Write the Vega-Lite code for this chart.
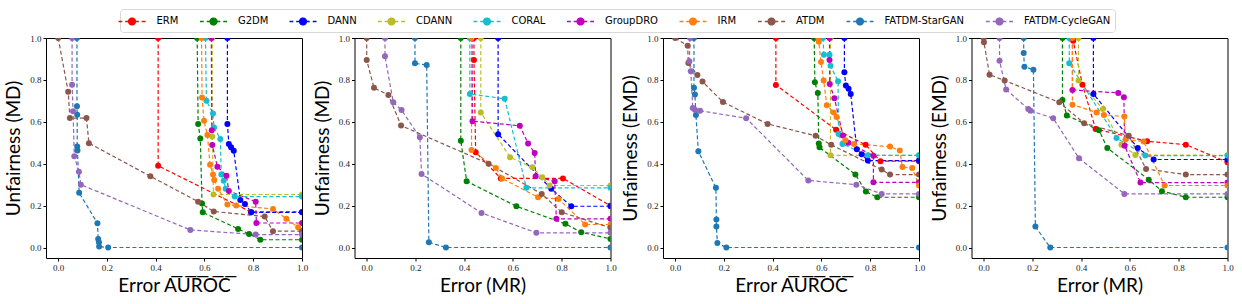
{
"$schema":"https://vega.github.io/schema/vega-lite/v6.json",
"padding":{"left":4,"top":8,"right":4,"bottom":4},
"bounds":"flush",
"spacing":52.5,
"config":{
 "view":{"stroke":"#000","strokeWidth":1},
 "axis":{"labelFont":"Liberation Serif","labelFontSize":9,"labelColor":"#222","titleFont":"Lato","titleFontSize":19,"titleFontWeight":"normal","titleColor":"#000","grid":false,"domain":false,"tickColor":"#000","tickSize":3,"values":[0,0.2,0.4,0.6,0.8,1],"format":".1f","labelFlush":false,"labelOverlap":false}
},
"data":{"values":[
{"p":1,"s":"ERM","x":0.41,"y":1},{"p":1,"s":"ERM","x":0.41,"y":0.39},{"p":1,"s":"ERM","x":0.79,"y":0.17},{"p":1,"s":"ERM","x":1,"y":0.17},
{"p":1,"s":"G2DM","x":0.57,"y":1},{"p":1,"s":"G2DM","x":0.574,"y":0.59},{"p":1,"s":"G2DM","x":0.583,"y":0.52},{"p":1,"s":"G2DM","x":0.59,"y":0.21},{"p":1,"s":"G2DM","x":0.593,"y":0.168},{"p":1,"s":"G2DM","x":0.738,"y":0.089},{"p":1,"s":"G2DM","x":0.783,"y":0.065},{"p":1,"s":"G2DM","x":0.829,"y":0.037},{"p":1,"s":"G2DM","x":1,"y":0.037},
{"p":1,"s":"DANN","x":0.694,"y":1},{"p":1,"s":"DANN","x":0.694,"y":0.589},{"p":1,"s":"DANN","x":0.7,"y":0.494},{"p":1,"s":"DANN","x":0.709,"y":0.478},{"p":1,"s":"DANN","x":0.72,"y":0.462},{"p":1,"s":"DANN","x":0.747,"y":0.227},{"p":1,"s":"DANN","x":0.766,"y":0.208},{"p":1,"s":"DANN","x":0.792,"y":0.168},{"p":1,"s":"DANN","x":1,"y":0.168},
{"p":1,"s":"CDANN","x":0.632,"y":1},{"p":1,"s":"CDANN","x":0.632,"y":0.53},{"p":1,"s":"CDANN","x":0.637,"y":0.253},{"p":1,"s":"CDANN","x":1,"y":0.253},
{"p":1,"s":"CORAL","x":0.604,"y":1},{"p":1,"s":"CORAL","x":0.608,"y":0.7},{"p":1,"s":"CORAL","x":0.635,"y":0.64},{"p":1,"s":"CORAL","x":0.639,"y":0.573},{"p":1,"s":"CORAL","x":0.665,"y":0.518},{"p":1,"s":"CORAL","x":0.669,"y":0.348},{"p":1,"s":"CORAL","x":0.679,"y":0.319},{"p":1,"s":"CORAL","x":0.687,"y":0.28},{"p":1,"s":"CORAL","x":0.724,"y":0.243},{"p":1,"s":"CORAL","x":1,"y":0.243},
{"p":1,"s":"GroupDRO","x":0.628,"y":1},{"p":1,"s":"GroupDRO","x":0.63,"y":0.56},{"p":1,"s":"GroupDRO","x":0.632,"y":0.489},{"p":1,"s":"GroupDRO","x":0.653,"y":0.386},{"p":1,"s":"GroupDRO","x":0.69,"y":0.343},{"p":1,"s":"GroupDRO","x":0.7,"y":0.27},{"p":1,"s":"GroupDRO","x":0.81,"y":0.219},{"p":1,"s":"GroupDRO","x":0.813,"y":0.117},{"p":1,"s":"GroupDRO","x":1,"y":0.117},
{"p":1,"s":"IRM","x":0.588,"y":1},{"p":1,"s":"IRM","x":0.59,"y":0.716},{"p":1,"s":"IRM","x":0.598,"y":0.605},{"p":1,"s":"IRM","x":0.612,"y":0.537},{"p":1,"s":"IRM","x":0.623,"y":0.395},{"p":1,"s":"IRM","x":0.635,"y":0.348},{"p":1,"s":"IRM","x":0.64,"y":0.322},{"p":1,"s":"IRM","x":0.656,"y":0.28},{"p":1,"s":"IRM","x":0.694,"y":0.205},{"p":1,"s":"IRM","x":0.73,"y":0.2},{"p":1,"s":"IRM","x":0.881,"y":0.184},{"p":1,"s":"IRM","x":0.936,"y":0.137},{"p":1,"s":"IRM","x":0.984,"y":0.097},{"p":1,"s":"IRM","x":1,"y":0.08},
{"p":1,"s":"ATDM","x":0,"y":1},{"p":1,"s":"ATDM","x":0.041,"y":0.744},{"p":1,"s":"ATDM","x":0.048,"y":0.618},{"p":1,"s":"ATDM","x":0.116,"y":0.618},{"p":1,"s":"ATDM","x":0.126,"y":0.498},{"p":1,"s":"ATDM","x":0.378,"y":0.34},{"p":1,"s":"ATDM","x":0.574,"y":0.219},{"p":1,"s":"ATDM","x":0.638,"y":0.172},{"p":1,"s":"ATDM","x":0.847,"y":0.148},{"p":1,"s":"ATDM","x":0.881,"y":0.078},{"p":1,"s":"ATDM","x":1,"y":0.078},
{"p":1,"s":"FATDM-StarGAN","x":0.077,"y":1},{"p":1,"s":"FATDM-StarGAN","x":0.077,"y":0.674},{"p":1,"s":"FATDM-StarGAN","x":0.078,"y":0.634},{"p":1,"s":"FATDM-StarGAN","x":0.078,"y":0.482},{"p":1,"s":"FATDM-StarGAN","x":0.079,"y":0.463},{"p":1,"s":"FATDM-StarGAN","x":0.086,"y":0.261},{"p":1,"s":"FATDM-StarGAN","x":0.161,"y":0.116},{"p":1,"s":"FATDM-StarGAN","x":0.164,"y":0.041},{"p":1,"s":"FATDM-StarGAN","x":0.167,"y":0.025},{"p":1,"s":"FATDM-StarGAN","x":0.168,"y":0.005},{"p":1,"s":"FATDM-StarGAN","x":0.205,"y":0},{"p":1,"s":"FATDM-StarGAN","x":1,"y":0},
{"p":1,"s":"FATDM-CycleGAN","x":0.057,"y":1},{"p":1,"s":"FATDM-CycleGAN","x":0.057,"y":0.777},{"p":1,"s":"FATDM-CycleGAN","x":0.061,"y":0.65},{"p":1,"s":"FATDM-CycleGAN","x":0.066,"y":0.436},{"p":1,"s":"FATDM-CycleGAN","x":0.085,"y":0.362},{"p":1,"s":"FATDM-CycleGAN","x":0.093,"y":0.3},{"p":1,"s":"FATDM-CycleGAN","x":0.542,"y":0.084},{"p":1,"s":"FATDM-CycleGAN","x":0.81,"y":0.062},{"p":1,"s":"FATDM-CycleGAN","x":1,"y":0.062},
{"p":2,"s":"ERM","x":0.44,"y":1},{"p":2,"s":"ERM","x":0.44,"y":0.895},{"p":2,"s":"ERM","x":0.447,"y":0.455},{"p":2,"s":"ERM","x":0.55,"y":0.33},{"p":2,"s":"ERM","x":0.805,"y":0.33},{"p":2,"s":"ERM","x":1,"y":0.2},
{"p":2,"s":"G2DM","x":0.386,"y":1},{"p":2,"s":"G2DM","x":0.386,"y":0.51},{"p":2,"s":"G2DM","x":0.41,"y":0.316},{"p":2,"s":"G2DM","x":0.614,"y":0.197},{"p":2,"s":"G2DM","x":0.815,"y":0.113},{"p":2,"s":"G2DM","x":0.88,"y":0.073},{"p":2,"s":"G2DM","x":1,"y":0.041},
{"p":2,"s":"DANN","x":0.539,"y":1},{"p":2,"s":"DANN","x":0.539,"y":0.541},{"p":2,"s":"DANN","x":0.757,"y":0.28},{"p":2,"s":"DANN","x":0.839,"y":0.197},{"p":2,"s":"DANN","x":1,"y":0.197},
{"p":2,"s":"CDANN","x":0.468,"y":1},{"p":2,"s":"CDANN","x":0.468,"y":0.645},{"p":2,"s":"CDANN","x":0.588,"y":0.431},{"p":2,"s":"CDANN","x":0.679,"y":0.383},{"p":2,"s":"CDANN","x":0.72,"y":0.335},{"p":2,"s":"CDANN","x":0.75,"y":0.296},{"p":2,"s":"CDANN","x":1,"y":0.296},
{"p":2,"s":"CORAL","x":0.423,"y":1},{"p":2,"s":"CORAL","x":0.423,"y":0.733},{"p":2,"s":"CORAL","x":0.566,"y":0.71},{"p":2,"s":"CORAL","x":0.655,"y":0.285},{"p":2,"s":"CORAL","x":1,"y":0.285},
{"p":2,"s":"GroupDRO","x":0.432,"y":1},{"p":2,"s":"GroupDRO","x":0.434,"y":0.603},{"p":2,"s":"GroupDRO","x":0.628,"y":0.581},{"p":2,"s":"GroupDRO","x":0.662,"y":0.497},{"p":2,"s":"GroupDRO","x":0.689,"y":0.451},{"p":2,"s":"GroupDRO","x":0.693,"y":0.34},{"p":2,"s":"GroupDRO","x":0.771,"y":0.316},{"p":2,"s":"GroupDRO","x":0.778,"y":0.137},{"p":2,"s":"GroupDRO","x":1,"y":0.137},
{"p":2,"s":"IRM","x":0.43,"y":1},{"p":2,"s":"IRM","x":0.43,"y":0.466},{"p":2,"s":"IRM","x":0.53,"y":0.38},{"p":2,"s":"IRM","x":0.555,"y":0.33},{"p":2,"s":"IRM","x":0.703,"y":0.24},{"p":2,"s":"IRM","x":0.787,"y":0.232},{"p":2,"s":"IRM","x":0.896,"y":0.11},{"p":2,"s":"IRM","x":1,"y":0.11},
{"p":2,"s":"ATDM","x":0,"y":1},{"p":2,"s":"ATDM","x":0,"y":0.895},{"p":2,"s":"ATDM","x":0.03,"y":0.762},{"p":2,"s":"ATDM","x":0.089,"y":0.728},{"p":2,"s":"ATDM","x":0.141,"y":0.582},{"p":2,"s":"ATDM","x":0.5,"y":0.4},{"p":2,"s":"ATDM","x":0.718,"y":0.256},{"p":2,"s":"ATDM","x":0.8,"y":0.168},{"p":2,"s":"ATDM","x":1,"y":0.094},
{"p":2,"s":"FATDM-StarGAN","x":0.198,"y":1},{"p":2,"s":"FATDM-StarGAN","x":0.198,"y":0.879},{"p":2,"s":"FATDM-StarGAN","x":0.246,"y":0.871},{"p":2,"s":"FATDM-StarGAN","x":0.255,"y":0.025},{"p":2,"s":"FATDM-StarGAN","x":0.325,"y":0},{"p":2,"s":"FATDM-StarGAN","x":1,"y":0},
{"p":2,"s":"FATDM-CycleGAN","x":0.075,"y":1},{"p":2,"s":"FATDM-CycleGAN","x":0.075,"y":0.913},{"p":2,"s":"FATDM-CycleGAN","x":0.109,"y":0.693},{"p":2,"s":"FATDM-CycleGAN","x":0.143,"y":0.656},{"p":2,"s":"FATDM-CycleGAN","x":0.218,"y":0.526},{"p":2,"s":"FATDM-CycleGAN","x":0.225,"y":0.351},{"p":2,"s":"FATDM-CycleGAN","x":0.471,"y":0.165},{"p":2,"s":"FATDM-CycleGAN","x":0.696,"y":0.07},{"p":2,"s":"FATDM-CycleGAN","x":1,"y":0.07},
{"p":3,"s":"ERM","x":0.413,"y":1},{"p":3,"s":"ERM","x":0.413,"y":0.776},{"p":3,"s":"ERM","x":0.66,"y":0.562},{"p":3,"s":"ERM","x":0.781,"y":0.49},{"p":3,"s":"ERM","x":0.842,"y":0.412},{"p":3,"s":"ERM","x":1,"y":0.412},
{"p":3,"s":"G2DM","x":0.57,"y":1},{"p":3,"s":"G2DM","x":0.573,"y":0.789},{"p":3,"s":"G2DM","x":0.585,"y":0.738},{"p":3,"s":"G2DM","x":0.589,"y":0.496},{"p":3,"s":"G2DM","x":0.592,"y":0.478},{"p":3,"s":"G2DM","x":0.739,"y":0.349},{"p":3,"s":"G2DM","x":0.782,"y":0.267},{"p":3,"s":"G2DM","x":0.829,"y":0.24},{"p":3,"s":"G2DM","x":1,"y":0.24},
{"p":3,"s":"DANN","x":0.694,"y":1},{"p":3,"s":"DANN","x":0.694,"y":0.836},{"p":3,"s":"DANN","x":0.7,"y":0.773},{"p":3,"s":"DANN","x":0.711,"y":0.758},{"p":3,"s":"DANN","x":0.72,"y":0.733},{"p":3,"s":"DANN","x":0.745,"y":0.469},{"p":3,"s":"DANN","x":0.765,"y":0.445},{"p":3,"s":"DANN","x":0.79,"y":0.415},{"p":3,"s":"DANN","x":1,"y":0.415},
{"p":3,"s":"CDANN","x":0.637,"y":1},{"p":3,"s":"CDANN","x":0.637,"y":0.44},{"p":3,"s":"CDANN","x":1,"y":0.44},
{"p":3,"s":"CORAL","x":0.606,"y":1},{"p":3,"s":"CORAL","x":0.61,"y":0.92},{"p":3,"s":"CORAL","x":0.633,"y":0.92},{"p":3,"s":"CORAL","x":0.637,"y":0.867},{"p":3,"s":"CORAL","x":0.668,"y":0.793},{"p":3,"s":"CORAL","x":0.67,"y":0.542},{"p":3,"s":"CORAL","x":0.686,"y":0.494},{"p":3,"s":"CORAL","x":0.79,"y":0.44},{"p":3,"s":"CORAL","x":1,"y":0.44},
{"p":3,"s":"GroupDRO","x":0.633,"y":1},{"p":3,"s":"GroupDRO","x":0.633,"y":0.895},{"p":3,"s":"GroupDRO","x":0.634,"y":0.78},{"p":3,"s":"GroupDRO","x":0.653,"y":0.713},{"p":3,"s":"GroupDRO","x":0.688,"y":0.535},{"p":3,"s":"GroupDRO","x":0.71,"y":0.5},{"p":3,"s":"GroupDRO","x":0.813,"y":0.438},{"p":3,"s":"GroupDRO","x":0.813,"y":0.311},{"p":3,"s":"GroupDRO","x":1,"y":0.311},
{"p":3,"s":"IRM","x":0.587,"y":1},{"p":3,"s":"IRM","x":0.589,"y":0.982},{"p":3,"s":"IRM","x":0.598,"y":0.886},{"p":3,"s":"IRM","x":0.609,"y":0.797},{"p":3,"s":"IRM","x":0.622,"y":0.679},{"p":3,"s":"IRM","x":0.65,"y":0.645},{"p":3,"s":"IRM","x":0.662,"y":0.623},{"p":3,"s":"IRM","x":0.698,"y":0.512},{"p":3,"s":"IRM","x":0.733,"y":0.494},{"p":3,"s":"IRM","x":0.881,"y":0.482},{"p":3,"s":"IRM","x":0.921,"y":0.463},{"p":3,"s":"IRM","x":0.932,"y":0.384},{"p":3,"s":"IRM","x":0.972,"y":0.38},{"p":3,"s":"IRM","x":1,"y":0.296},
{"p":3,"s":"ATDM","x":0,"y":1},{"p":3,"s":"ATDM","x":0.051,"y":0.963},{"p":3,"s":"ATDM","x":0.054,"y":0.881},{"p":3,"s":"ATDM","x":0.091,"y":0.824},{"p":3,"s":"ATDM","x":0.112,"y":0.792},{"p":3,"s":"ATDM","x":0.196,"y":0.694},{"p":3,"s":"ATDM","x":0.379,"y":0.59},{"p":3,"s":"ATDM","x":0.576,"y":0.533},{"p":3,"s":"ATDM","x":0.64,"y":0.49},{"p":3,"s":"ATDM","x":0.847,"y":0.372},{"p":3,"s":"ATDM","x":0.881,"y":0.348},{"p":3,"s":"ATDM","x":1,"y":0.348},
{"p":3,"s":"FATDM-StarGAN","x":0.077,"y":1},{"p":3,"s":"FATDM-StarGAN","x":0.077,"y":0.762},{"p":3,"s":"FATDM-StarGAN","x":0.081,"y":0.73},{"p":3,"s":"FATDM-StarGAN","x":0.085,"y":0.633},{"p":3,"s":"FATDM-StarGAN","x":0.095,"y":0.459},{"p":3,"s":"FATDM-StarGAN","x":0.167,"y":0.285},{"p":3,"s":"FATDM-StarGAN","x":0.169,"y":0.134},{"p":3,"s":"FATDM-StarGAN","x":0.169,"y":0.1},{"p":3,"s":"FATDM-StarGAN","x":0.173,"y":0.021},{"p":3,"s":"FATDM-StarGAN","x":0.21,"y":0},{"p":3,"s":"FATDM-StarGAN","x":1,"y":0},
{"p":3,"s":"FATDM-CycleGAN","x":0.061,"y":1},{"p":3,"s":"FATDM-CycleGAN","x":0.058,"y":0.889},{"p":3,"s":"FATDM-CycleGAN","x":0.064,"y":0.841},{"p":3,"s":"FATDM-CycleGAN","x":0.072,"y":0.666},{"p":3,"s":"FATDM-CycleGAN","x":0.081,"y":0.658},{"p":3,"s":"FATDM-CycleGAN","x":0.102,"y":0.653},{"p":3,"s":"FATDM-CycleGAN","x":0.291,"y":0.617},{"p":3,"s":"FATDM-CycleGAN","x":0.546,"y":0.32},{"p":3,"s":"FATDM-CycleGAN","x":0.743,"y":0.3},{"p":3,"s":"FATDM-CycleGAN","x":0.847,"y":0.256},{"p":3,"s":"FATDM-CycleGAN","x":1,"y":0.256},
{"p":4,"s":"ERM","x":0.367,"y":1},{"p":4,"s":"ERM","x":0.367,"y":0.987},{"p":4,"s":"ERM","x":0.405,"y":0.777},{"p":4,"s":"ERM","x":0.459,"y":0.566},{"p":4,"s":"ERM","x":0.67,"y":0.507},{"p":4,"s":"ERM","x":0.829,"y":0.491},{"p":4,"s":"ERM","x":1,"y":0.407},
{"p":4,"s":"G2DM","x":0.323,"y":1},{"p":4,"s":"G2DM","x":0.323,"y":0.704},{"p":4,"s":"G2DM","x":0.341,"y":0.63},{"p":4,"s":"G2DM","x":0.473,"y":0.56},{"p":4,"s":"G2DM","x":0.507,"y":0.475},{"p":4,"s":"G2DM","x":0.677,"y":0.324},{"p":4,"s":"G2DM","x":0.731,"y":0.269},{"p":4,"s":"G2DM","x":0.829,"y":0.24},{"p":4,"s":"G2DM","x":1,"y":0.24},
{"p":4,"s":"DANN","x":0.45,"y":1},{"p":4,"s":"DANN","x":0.45,"y":0.733},{"p":4,"s":"DANN","x":0.632,"y":0.475},{"p":4,"s":"DANN","x":0.697,"y":0.42},{"p":4,"s":"DANN","x":1,"y":0.42},
{"p":4,"s":"CDANN","x":0.389,"y":1},{"p":4,"s":"CDANN","x":0.389,"y":0.797},{"p":4,"s":"CDANN","x":0.489,"y":0.661},{"p":4,"s":"CDANN","x":0.565,"y":0.49},{"p":4,"s":"CDANN","x":0.622,"y":0.442},{"p":4,"s":"CDANN","x":1,"y":0.44},
{"p":4,"s":"CORAL","x":0.351,"y":1},{"p":4,"s":"CORAL","x":0.351,"y":0.879},{"p":4,"s":"CORAL","x":0.545,"y":0.523},{"p":4,"s":"CORAL","x":0.663,"y":0.439},{"p":4,"s":"CORAL","x":1,"y":0.439},
{"p":4,"s":"GroupDRO","x":0.364,"y":1},{"p":4,"s":"GroupDRO","x":0.364,"y":0.752},{"p":4,"s":"GroupDRO","x":0.552,"y":0.738},{"p":4,"s":"GroupDRO","x":0.575,"y":0.717},{"p":4,"s":"GroupDRO","x":0.578,"y":0.486},{"p":4,"s":"GroupDRO","x":0.643,"y":0.31},{"p":4,"s":"GroupDRO","x":1,"y":0.31},
{"p":4,"s":"IRM","x":0.364,"y":1},{"p":4,"s":"IRM","x":0.364,"y":0.682},{"p":4,"s":"IRM","x":0.463,"y":0.645},{"p":4,"s":"IRM","x":0.493,"y":0.633},{"p":4,"s":"IRM","x":0.577,"y":0.625},{"p":4,"s":"IRM","x":0.582,"y":0.515},{"p":4,"s":"IRM","x":0.656,"y":0.506},{"p":4,"s":"IRM","x":0.742,"y":0.296},{"p":4,"s":"IRM","x":1,"y":0.296},
{"p":4,"s":"ATDM","x":0,"y":1},{"p":4,"s":"ATDM","x":0.001,"y":0.98},{"p":4,"s":"ATDM","x":0.024,"y":0.825},{"p":4,"s":"ATDM","x":0.086,"y":0.797},{"p":4,"s":"ATDM","x":0.31,"y":0.693},{"p":4,"s":"ATDM","x":0.412,"y":0.593},{"p":4,"s":"ATDM","x":0.595,"y":0.534},{"p":4,"s":"ATDM","x":0.666,"y":0.375},{"p":4,"s":"ATDM","x":0.829,"y":0.348},{"p":4,"s":"ATDM","x":1,"y":0.348},
{"p":4,"s":"FATDM-StarGAN","x":0.164,"y":1},{"p":4,"s":"FATDM-StarGAN","x":0.164,"y":0.928},{"p":4,"s":"FATDM-StarGAN","x":0.167,"y":0.863},{"p":4,"s":"FATDM-StarGAN","x":0.204,"y":0.849},{"p":4,"s":"FATDM-StarGAN","x":0.212,"y":0.1},{"p":4,"s":"FATDM-StarGAN","x":0.273,"y":0},{"p":4,"s":"FATDM-StarGAN","x":1,"y":0},
{"p":4,"s":"FATDM-CycleGAN","x":0.065,"y":1},{"p":4,"s":"FATDM-CycleGAN","x":0.065,"y":0.892},{"p":4,"s":"FATDM-CycleGAN","x":0.092,"y":0.754},{"p":4,"s":"FATDM-CycleGAN","x":0.183,"y":0.661},{"p":4,"s":"FATDM-CycleGAN","x":0.192,"y":0.653},{"p":4,"s":"FATDM-CycleGAN","x":0.285,"y":0.617},{"p":4,"s":"FATDM-CycleGAN","x":0.391,"y":0.426},{"p":4,"s":"FATDM-CycleGAN","x":0.577,"y":0.256},{"p":4,"s":"FATDM-CycleGAN","x":1,"y":0.256}
]},
"hconcat":[
{"width":256,"height":220,"transform":[{"filter":"datum.p==1"}],
 "encoding":{
  "x":{"field":"x","type":"quantitative","scale":{"domain":[-0.05,1],"nice":false,"zero":false},"axis":{"title":"Error A\u0305U\u0305R\u0305O\u0305C\u0305","titlePadding":4}},
  "y":{"field":"y","type":"quantitative","scale":{"domain":[-0.05,1],"nice":false,"zero":false},"axis":{"title":"Unfairness (MD)","titlePadding":6}},
  "color":{"field":"s","type":"nominal","scale":{"domain":["ERM","G2DM","DANN","CDANN","CORAL","GroupDRO","IRM","ATDM","FATDM-StarGAN","FATDM-CycleGAN"],"range":["#ff0000","#008000","#0000ff","#bcbd22","#17becf","#bf00bf","#ff7f0e","#8c564b","#1f77b4","#9467bd"]},
   "legend":{"orient":"none","legendX":74,"legendY":-29,"direction":"horizontal","columns":10,"title":null,"symbolType":"M-1.93,0H-1.39M-0.97,0H-0.43M0.43,0H0.97M1.39,0H1.93M0.49,0A0.49,0.49 0 1 1 -0.49,0A0.49,0.49 0 1 1 0.49,0M0.32,0A0.32,0.32 0 1 1 -0.32,0A0.32,0.32 0 1 1 0.32,0M0.15,0A0.15,0.15 0 1 1 -0.15,0A0.15,0.15 0 1 1 0.15,0","symbolSize":196,"symbolStrokeWidth":1.3,"symbolDash":[1,0],"labelFont":"DejaVu Sans","labelFontSize":10,"labelColor":"#000","labelOffset":16.5,"columnPadding":17.5,"padding":4,"strokeColor":"#d8d8d8","fillColor":"white","cornerRadius":3,"symbolOpacity":1}},
  "order":{"value":null}},
 "layer":[{"mark":{"type":"line","strokeDash":[4,2.5],"strokeWidth":1.2,"clip":true}},{"mark":{"type":"point","filled":true,"size":36,"opacity":1,"clip":true}}]},
{"width":256,"height":220,"transform":[{"filter":"datum.p==2"}],
 "encoding":{
  "x":{"field":"x","type":"quantitative","scale":{"domain":[-0.05,1],"nice":false,"zero":false},"axis":{"title":"Error (MR)","titlePadding":4}},
  "y":{"field":"y","type":"quantitative","scale":{"domain":[-0.05,1],"nice":false,"zero":false},"axis":{"title":"Unfairness (MD)","titlePadding":6}},
  "color":{"field":"s","type":"nominal"},
  "order":{"value":null}},
 "layer":[{"mark":{"type":"line","strokeDash":[4,2.5],"strokeWidth":1.2,"clip":true}},{"mark":{"type":"point","filled":true,"size":36,"opacity":1,"clip":true}}]},
{"width":256,"height":220,"transform":[{"filter":"datum.p==3"}],
 "encoding":{
  "x":{"field":"x","type":"quantitative","scale":{"domain":[-0.05,1],"nice":false,"zero":false},"axis":{"title":"Error A\u0305U\u0305R\u0305O\u0305C\u0305","titlePadding":4}},
  "y":{"field":"y","type":"quantitative","scale":{"domain":[-0.05,1],"nice":false,"zero":false},"axis":{"title":"Unfairness (EMD)","titlePadding":6}},
  "color":{"field":"s","type":"nominal"},
  "order":{"value":null}},
 "layer":[{"mark":{"type":"line","strokeDash":[4,2.5],"strokeWidth":1.2,"clip":true}},{"mark":{"type":"point","filled":true,"size":36,"opacity":1,"clip":true}}]},
{"width":256,"height":220,"transform":[{"filter":"datum.p==4"}],
 "encoding":{
  "x":{"field":"x","type":"quantitative","scale":{"domain":[-0.05,1],"nice":false,"zero":false},"axis":{"title":"Error (MR)","titlePadding":4}},
  "y":{"field":"y","type":"quantitative","scale":{"domain":[-0.05,1],"nice":false,"zero":false},"axis":{"title":"Unfairness (EMD)","titlePadding":6}},
  "color":{"field":"s","type":"nominal"},
  "order":{"value":null}},
 "layer":[{"mark":{"type":"line","strokeDash":[4,2.5],"strokeWidth":1.2,"clip":true}},{"mark":{"type":"point","filled":true,"size":36,"opacity":1,"clip":true}}]}
]
}
